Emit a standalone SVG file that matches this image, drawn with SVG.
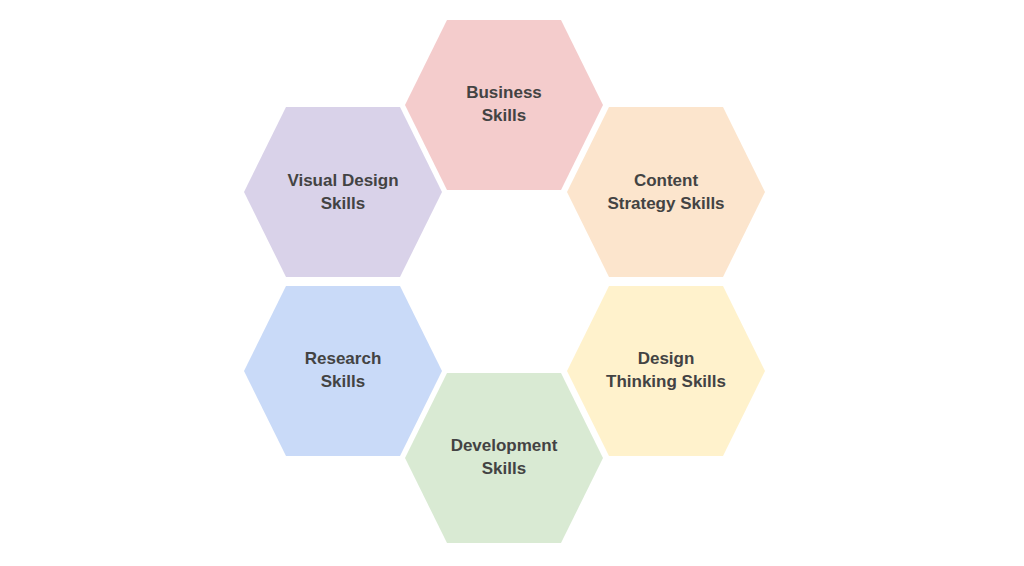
<svg xmlns="http://www.w3.org/2000/svg" width="1024" height="566" viewBox="0 0 1024 566">
<defs>
<style>
.lbl{font-family:"Liberation Sans",Arial,sans-serif;font-weight:bold;font-size:17px;fill:#434343;text-anchor:middle}
</style>
<polygon id="hex" points="-99,0 -57,-85 57,-85 99,0 57,85 -57,85"/>
</defs>
<rect width="1024" height="566" fill="#ffffff"/>
<g id="connectors"/>
<g id="business">
<use href="#hex" x="504" y="105" fill="#f4cccc"/>
<text class="lbl" x="504" y="98">Business</text>
<text class="lbl" x="504" y="121">Skills</text>
</g>
<g id="visual-design">
<use href="#hex" x="343" y="192" fill="#d9d2e9"/>
<text class="lbl" x="343" y="186">Visual Design</text>
<text class="lbl" x="343" y="209">Skills</text>
</g>
<g id="content-strategy">
<use href="#hex" x="666" y="192" fill="#fce5cd"/>
<text class="lbl" x="666" y="186">Content</text>
<text class="lbl" x="666" y="209">Strategy Skills</text>
</g>
<g id="research">
<use href="#hex" x="343" y="371" fill="#c9daf8"/>
<text class="lbl" x="343" y="364">Research</text>
<text class="lbl" x="343" y="387">Skills</text>
</g>
<g id="design-thinking">
<use href="#hex" x="666" y="371" fill="#fff2cc"/>
<text class="lbl" x="666" y="364">Design</text>
<text class="lbl" x="666" y="387">Thinking Skills</text>
</g>
<g id="development">
<use href="#hex" x="504" y="458" fill="#d9ead3"/>
<text class="lbl" x="504" y="451">Development</text>
<text class="lbl" x="504" y="474">Skills</text>
</g>
</svg>
